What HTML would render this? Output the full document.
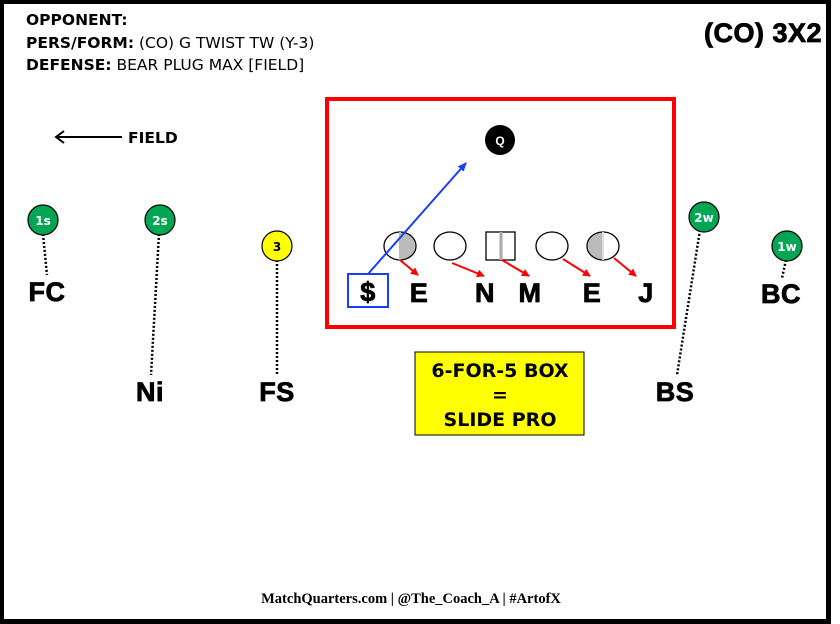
<!DOCTYPE html>
<html><head><style>body{margin:0;background:#fff}svg{display:block}</style></head><body>
<svg width="840" height="624" xmlns="http://www.w3.org/2000/svg" font-family="Liberation Sans, sans-serif">
<defs>
<marker id="ab" markerWidth="10" markerHeight="10" refX="8" refY="5" orient="auto" markerUnits="userSpaceOnUse"><path d="M0,1 L9,5 L0,9 z" fill="#1a3cff"/></marker>
<marker id="ar" markerWidth="9" markerHeight="9" refX="7" refY="4.5" orient="auto" markerUnits="userSpaceOnUse"><path d="M0,0.5 L8,4.5 L0,8.5 z" fill="#ff0000"/></marker>
</defs>
<rect x="0" y="0" width="840" height="624" fill="#fff"/>
<rect x="0" y="0" width="831" height="4" fill="#000"/>
<rect x="0" y="0" width="4" height="624" fill="#000"/>
<rect x="826" y="0" width="5" height="624" fill="#000"/>
<rect x="0" y="619" width="831" height="5" fill="#000"/>
<g font-family="DejaVu Sans, sans-serif" font-size="15.5">
<text x="26" y="25" font-weight="bold">OPPONENT:</text>
<text x="26" y="48"><tspan font-weight="bold">PERS/FORM:</tspan> (CO) G TWIST TW (Y-3)</text>
<text x="26" y="70"><tspan font-weight="bold">DEFENSE:</tspan> BEAR PLUG MAX [FIELD]</text>
</g>
<text x="822" y="42" text-anchor="end" font-size="27" font-weight="bold" stroke="#000" stroke-width="0.8" letter-spacing="0.5">(CO) 3X2</text>
<line x1="58" y1="137" x2="122" y2="137" stroke="#000" stroke-width="2"/>
<path d="M64,131 L56,137 L64,143" fill="none" stroke="#000" stroke-width="2"/>
<text x="128" y="143" font-family="DejaVu Sans, sans-serif" font-size="15.5" font-weight="bold">FIELD</text>
<rect x="327" y="99" width="347" height="228" fill="none" stroke="#ff0000" stroke-width="4"/>
<circle cx="500" cy="140" r="15" fill="#000"/>
<text x="500" y="145" text-anchor="middle" fill="#fff" font-size="12" font-weight="bold">Q</text>
<g stroke="#000" stroke-width="1.3">
<path d="M400,232 A15,14 0 0 1 400,260 Z" fill="#bbb" stroke="none"/>
<ellipse cx="400" cy="246" rx="16" ry="14" fill="none"/>
<line x1="400" y1="232" x2="400" y2="260" stroke="#bbb" stroke-width="2"/>
<ellipse cx="450" cy="246" rx="16" ry="14" fill="#fff"/>
<rect x="486" y="232" width="29" height="28" fill="#fff"/>
<line x1="501" y1="232" x2="501" y2="260" stroke="#aaa" stroke-width="3"/>
<ellipse cx="552" cy="246" rx="16" ry="14" fill="#fff"/>
<path d="M603,232 A15,14 0 0 0 603,260 Z" fill="#bbb" stroke="none"/>
<ellipse cx="603" cy="246" rx="16" ry="14" fill="none"/>
<line x1="603" y1="232" x2="603" y2="260" stroke="#ddd" stroke-width="2"/>
</g>
<g stroke="#ff0000" stroke-width="2" marker-end="url(#ar)">
<line x1="400" y1="260" x2="418" y2="275"/>
<line x1="452" y1="263" x2="484" y2="276"/>
<line x1="502" y1="260" x2="529" y2="276"/>
<line x1="563" y1="259" x2="590" y2="276"/>
<line x1="614" y1="258" x2="636" y2="276"/>
</g>
<line x1="368" y1="274" x2="466" y2="163" stroke="#1a3cff" stroke-width="2" marker-end="url(#ab)"/>
<rect x="348" y="274" width="40" height="33" fill="none" stroke="#1a3cff" stroke-width="2"/>
<g font-size="27" font-weight="bold" text-anchor="middle" stroke="#000" stroke-width="0.8" letter-spacing="0.5">
<text x="368" y="301">$</text>
<text x="419" y="302">E</text>
<text x="485" y="302">N</text>
<text x="530" y="302">M</text>
<text x="592" y="302">E</text>
<text x="646" y="302">J</text>
<text x="47" y="301">FC</text>
<text x="150" y="401">Ni</text>
<text x="277" y="401">FS</text>
<text x="675" y="401">BS</text>
<text x="781" y="303">BC</text>
</g>
<g stroke="#000" stroke-width="2.5" stroke-dasharray="2,2">
<line x1="43" y1="234" x2="47" y2="275"/>
<line x1="159" y1="234" x2="151" y2="375"/>
<line x1="277" y1="260" x2="277" y2="375"/>
<line x1="700" y1="230" x2="677" y2="375"/>
<line x1="786" y1="260" x2="782" y2="278"/>
</g>
<g stroke="#000" stroke-width="1.2">
<circle cx="43" cy="220" r="15" fill="#00a651"/>
<circle cx="160" cy="220" r="15" fill="#00a651"/>
<circle cx="277" cy="246" r="15" fill="#ffff00"/>
<circle cx="704" cy="217" r="15" fill="#00a651"/>
<circle cx="787" cy="246" r="15" fill="#00a651"/>
</g>
<g font-family="DejaVu Sans, sans-serif" font-size="12" font-weight="bold" text-anchor="middle">
<text x="43" y="225" fill="#fff">1s</text>
<text x="160" y="225" fill="#fff">2s</text>
<text x="277" y="251" fill="#000">3</text>
<text x="704" y="222" fill="#fff">2w</text>
<text x="787" y="251" fill="#fff">1w</text>
</g>
<rect x="415" y="352" width="169" height="83" fill="#ffff00" stroke="#000" stroke-width="1"/>
<g font-family="DejaVu Sans, sans-serif" font-size="19" font-weight="bold" text-anchor="middle">
<text x="500" y="377">6-FOR-5 BOX</text>
<text x="500" y="401">=</text>
<text x="500" y="426">SLIDE PRO</text>
</g>
<text x="411" y="603" text-anchor="middle" font-family="Liberation Serif, serif" font-size="14.5" font-weight="bold">MatchQuarters.com | @The_Coach_A | #ArtofX</text>
</svg>
</body></html>
